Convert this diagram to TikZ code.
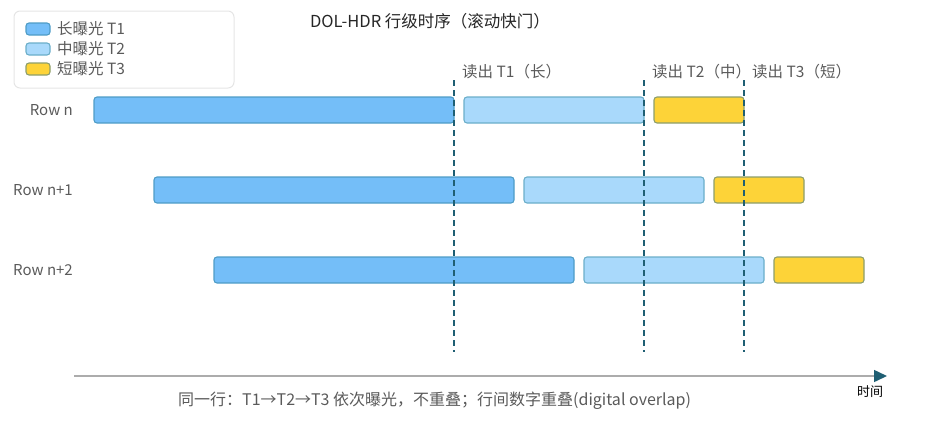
\documentclass[tikz,border=0pt]{standalone}
\usepackage{fontspec}
\setmainfont{Noto Sans CJK SC}
\usepackage{tikz}
\usetikzlibrary{positioning,arrows.meta}
\definecolor{longfill}{HTML}{74BEF8}
\definecolor{longedge}{HTML}{4E9CC6}
\definecolor{midfill}{HTML}{A9D9FB}
\definecolor{midedge}{HTML}{6BAEC9}
\definecolor{shortfill}{HTML}{FDD338}
\definecolor{shortedge}{HTML}{8C9E6C}
\definecolor{readteal}{HTML}{1F5F73}
\definecolor{txtgray}{HTML}{5A5A5A}
\newcommand{\mFont}[1]{\fontsize{#1}{#1}\selectfont}
\tikzset{
  expo/.style={draw, rounded corners=3pt, line width=1.1pt, minimum height=26pt, inner sep=0pt, outer sep=0pt, anchor=west},
  tlong/.style={expo, fill=longfill, draw=longedge, minimum width=360pt},
  tmid/.style={expo, fill=midfill, draw=midedge, minimum width=180pt},
  tshort/.style={expo, fill=shortfill, draw=shortedge, minimum width=90pt},
  swatch/.style={draw, rounded corners=3pt, line width=1.1pt, minimum width=24pt, minimum height=12pt, inner sep=0pt, outer sep=0pt},
  rowlbl/.style={anchor=east, inner sep=0pt, text=txtgray, font=\mFont{15}},
  rdlbl/.style={anchor=west, inner sep=0pt, text=txtgray, font=\mFont{15.5}},
  readline/.style={draw=readteal, line width=2pt, dash pattern=on 6pt off 4pt},
}

\begin{document}
\begin{tikzpicture}[x=1pt, y=-1pt]
    \useasboundingbox (0,0) rectangle (932,426);
    % legend
    \node[draw=gray!20, line width=1pt, rounded corners=6pt, minimum width=220pt, minimum height=77pt] (legend) at (124,49.5) {};
    \node[swatch, fill=longfill, draw=longedge] (swlong) at (38,29) {};
    \node[swatch, fill=midfill, draw=midedge] (swmid) at (38,49) {};
    \node[swatch, fill=shortfill, draw=shortedge] (swshort) at (38,69) {};
    \node[rdlbl, right=7pt of swlong] (klong) {长曝光 T1};
    \node[rdlbl, right=7pt of swmid] (kmid) {中曝光 T2};
    \node[rdlbl, right=7pt of swshort] (kshort) {短曝光 T3};
    \node[font=\mFont{16.5}, text=black!85] (title) at (430,21) {DOL-HDR 行级时序（滚动快门）};
    % rows
    \node[rowlbl] (rown) at (73,110) {Row n};
    \node[tlong] (t1n) at (94,110) {};
    \node[tmid, right=10pt of t1n] (t2n) {};
    \node[tshort, right=10pt of t2n] (t3n) {};
    \node[rowlbl] (rowm) at (73,190) {Row n+1};
    \node[tlong] (t1m) at (154,190) {};
    \node[tmid, right=10pt of t1m] (t2m) {};
    \node[tshort, right=10pt of t2m] (t3m) {};
    \node[rowlbl] (rowk) at (73,270) {Row n+2};
    \node[tlong] (t1k) at (214,270) {};
    \node[tmid, right=10pt of t1k] (t2k) {};
    \node[tshort, right=10pt of t2k] (t3k) {};
    % readout
    \coordinate (rdtop) at (0,80);
    \coordinate (rdbot) at (0,352);
    \draw[readline] (t1n.east |- rdtop) -- (t1n.east |- rdbot);
    \draw[readline] (t2n.east |- rdtop) -- (t2n.east |- rdbot);
    \draw[readline] (t3n.east |- rdtop) -- (t3n.east |- rdbot);
    \node[rdlbl] (rd1) at (462,72) {读出 T1（长）};
    \node[rdlbl] (rd2) at (652,72) {读出 T2（中）};
    \node[rdlbl] (rd3) at (752,72) {读出 T3（短）};
    % time axis
    \coordinate (axs) at (74,376);
    \coordinate (axe) at (887,376);
    \draw[draw=gray!65, line width=1.5pt, -{Triangle[length=13pt,width=12pt,color=readteal]}] (axs) -- (axe);
    \node[font=\mFont{13}] (tlab) at (870,392) {时间};
    \node[anchor=west, inner sep=0pt, text=txtgray, font=\mFont{16}] (note) at (178,401) {同一行：T1→T2→T3 依次曝光，不重叠；行间数字重叠(digital overlap)};
\end{tikzpicture}
\end{document}
